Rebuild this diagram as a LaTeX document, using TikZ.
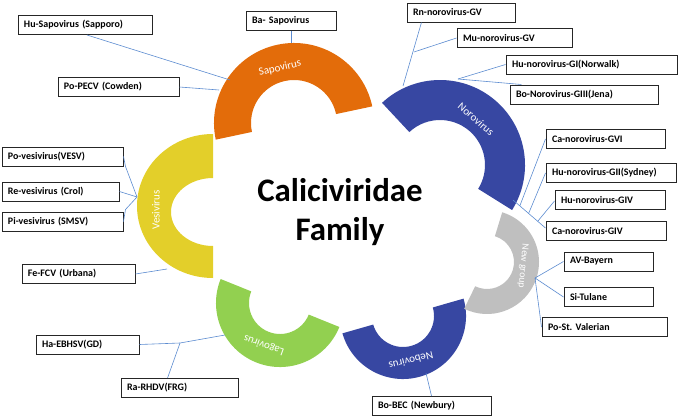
\documentclass[tikz,border=0pt]{standalone}
\usepackage{fontspec}
\setmainfont{Carlito}
\usetikzlibrary{calc}
\definecolor{sapo}{HTML}{E36C0A}
\definecolor{noro}{HTML}{3747A2}
\definecolor{vesi}{HTML}{E3CF2A}
\definecolor{lago}{HTML}{92D050}
\definecolor{ngrey}{HTML}{BFBFBF}
\definecolor{conn}{HTML}{5B8BD0}
\begin{document}
\frenchspacing
\begin{tikzpicture}[x=1bp,y=1bp,
  box/.style={draw=black!85,line width=1pt,fill=white,font=\bfseries\fontsize{10}{12}\selectfont,
    align=left,inner xsep=6bp,inner ysep=0pt,minimum height=19bp},
  cn/.style={draw=conn,line width=0.6pt},
  lab/.style={text=white,font=\fontsize{11}{13}\selectfont}]
\useasboundingbox (0,0) rectangle (685,418);
% arcs
\fill[sapo] ($(294,295)+(12:80)$) arc[start angle=12,end angle=192,radius=80] -- ($(294,295)+(192:43)$) arc[start angle=192,end angle=12,radius=43] -- cycle;
\fill[noro] ($(440,253)+(-32:85)$) arc[start angle=-32,end angle=133,radius=85] -- ($(440,253)+(133:45)$) arc[start angle=133,end angle=-32,radius=45] -- cycle;
\fill[vesi] (213,284) arc[start angle=90,end angle=270,x radius=76,y radius=72] -- (213,172) arc[start angle=270,end angle=90,x radius=42,y radius=34] -- cycle;
\fill[lago] ($(280,115)+(158:64)$) arc[start angle=158,end angle=338,radius=64] -- ($(280,115)+(338:31)$) arc[start angle=338,end angle=158,radius=31] -- cycle;
\fill[noro] ($(403,102)+(196:63)$) arc[start angle=196,end angle=376,radius=63] -- ($(403,102)+(16:31)$) arc[start angle=376,end angle=196,radius=31] -- cycle;
\fill[ngrey] ($(487,156)+(-116:52)$) arc[start angle=-116,end angle=73,radius=52] -- ($(487,156)+(73:27)$) arc[start angle=73,end angle=-116,radius=27] -- cycle;
% arc labels
\node[lab,rotate=13] (tsapo) at (280,350) {Sapovirus};
\node[lab,rotate=-41] (tnoro) at (476,299) {Norovirus};
\node[lab,rotate=90] (tvesi) at (156,208) {Vesivirus};
\node[lab,rotate=160] (tlago) at (264,73) {Lagovirus};
\node[lab,rotate=194] (tnebo) at (411,57) {Nebovirus};
\node[lab,rotate=-95,font=\fontsize{10}{12}\selectfont] (tng) at (523,152) {New group};
% title
\node[font=\bfseries\fontsize{33}{39}\selectfont,align=center] (title) at (340,206) {Caliciviridae\\Family};
% boxes
\node[box,text width=122bp] (hus) at (85,393) {Hu-Sapovirus (Sapporo)};
\node[box,text width=78bp] (ba) at (291,397) {Ba- Sapovirus};
\node[box,text width=109bp] (pecv) at (118.5,331) {Po-PECV (Cowden)};
\node[box,text width=109bp] (povesv) at (62.5,261.5) {Po-vesivirus(VESV)};
\node[box,text width=105bp] (recrol) at (60.5,226.5) {Re-vesivirus (Crol)};
\node[box,text width=109bp] (pismsv) at (62.5,196.5) {Pi-vesivirus (SMSV)};
\node[box,text width=101bp] (fefcv) at (78.5,144) {Fe-FCV (Urbana)};
\node[box,text width=91bp] (haeb) at (87.5,73.5) {Ha-EBHSV(GD)};
\node[box,text width=105bp] (rarhdv) at (179.5,30) {Ra-RHDV(FRG)};
\node[box,text width=107bp] (bobec) at (431.5,12) {Bo-BEC (Newbury)};
\node[box,text width=96bp] (rn) at (461,405.5) {Rn-norovirus-GV};
\node[box,text width=103bp] (mu) at (514.5,380) {Mu-norovirus-GV};
\node[box,text width=159bp] (hugi) at (591.5,353.5) {Hu-norovirus-GI(Norwalk)};
\node[box,text width=136bp] (bogiii) at (584,323.5) {Bo-Norovirus-GIII(Jena)};
\node[box,text width=107bp] (cagvi) at (605.5,279) {Ca-norovirus-GVI};
\node[box,text width=118bp] (hugii) at (611,245) {Hu-norovirus-GII(Sydney)};
\node[box,text width=98bp] (hugiv) at (610,218) {Hu-norovirus-GIV};
\node[box,text width=108bp] (cagiv) at (606,187) {Ca-norovirus-GIV};
\node[box,text width=77bp] (av) at (608.5,156.5) {AV-Bayern};
\node[box,text width=77bp] (si) at (608.5,121) {Si-Tulane};
\node[box,text width=113bp] (post) at (604.5,91) {Po-St. Valerian};
% junction coordinates
\coordinate (sapoA) at (230,338);
\coordinate (sapoB) at (219,328);
\coordinate (sapoC) at (291,375);
\coordinate (noroA) at (403,332);
\coordinate (muJ) at (414,366);
\coordinate (noroB) at (458,339);
\coordinate (noroE) at (513,218);
\coordinate (ngP) at (535,140);
\coordinate (neboP) at (426,45);
\coordinate (vJ) at (137,221);
\coordinate (vesiP) at (167,149);
\coordinate (lagJ) at (180,75);
\coordinate (lagP) at (225,83);
% connectors
\draw[cn] ([xshift=2]hus.south) -- (sapoA);
\draw[cn] (pecv.east) -- (sapoB);
\draw[cn] (ba.south) -- (sapoC);
\draw[cn] ([xshift=15]rn.south west) -- (noroA);
\draw[cn] (mu.west) -- (muJ);
\draw[cn] (hugi.west) -- (noroB);
\draw[cn] (noroB) -- ([xshift=12]bogiii.north west);
\draw[cn] (noroE) -- ([yshift=3]cagiv.west);
\draw[cn] (cagvi.west) -- ($(noroE)!0.21!([yshift=3]cagiv.west)$);
\draw[cn] (hugii.west) -- ($(noroE)!0.48!([yshift=3]cagiv.west)$);
\draw[cn] ([yshift=-1]hugiv.west) -- ($(noroE)!0.76!([yshift=3]cagiv.west)$);
\draw[cn] (ngP) -- (av.west);
\draw[cn] (ngP) -- (si.west);
\draw[cn] (ngP) -- (post.west);
\draw[cn] (bobec.north) -- (neboP);
\draw[cn] (povesv.east) -- ++(2,-10) -- (vJ);
\draw[cn] (recrol.east) -- (vJ);
\draw[cn] (pismsv.east) -- ++(2,12) -- (vJ);
\draw[cn] (fefcv.east) -- (vesiP);
\draw[cn] (haeb.east) -- (lagJ) -- (lagP);
\draw[cn] ([xshift=-12]rarhdv.north) -- (lagJ);
\end{tikzpicture}
\end{document}
